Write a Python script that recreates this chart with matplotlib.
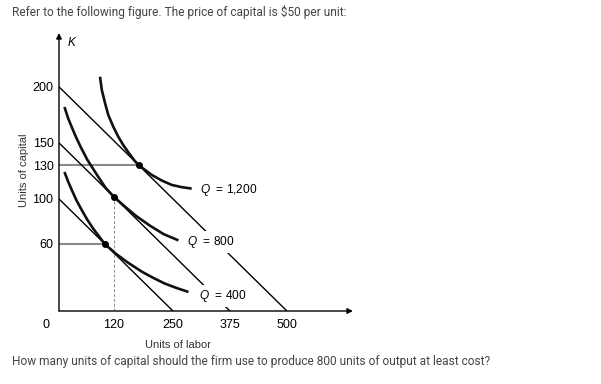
import matplotlib.pyplot as plt

plt.rcParams['font.family'] = ['Liberation Sans', 'DejaVu Sans']
plt.rcParams['mathtext.fontset'] = 'custom'
plt.rcParams['mathtext.it'] = 'Liberation Sans:italic'
plt.rcParams['mathtext.rm'] = 'Liberation Sans'

# isocost lines: (capital intercept, labor intercept)
isocost_k = [200, 150, 100]
isocost_l = [500, 375, 250]

# isoquants (labor, capital)
q1200_l = [90, 94, 101, 108, 119, 130, 141, 154, 166, 175, 185, 203, 225, 247, 269, 291]
q1200_k = [209, 197, 185.5, 175, 164.5, 155.5, 148, 140.5, 134, 130, 127, 121.5, 116.5, 112.5, 110.5, 109.2]
q800_l = [12, 20, 28, 38, 48, 62, 84, 102, 120, 145, 170, 200, 230, 262]
q800_k = [182, 172, 164, 154.5, 146, 135, 121, 110, 102, 93, 84.5, 76, 68.5, 63]
q400_l = [12, 20, 28, 38, 50, 62, 75, 100, 125, 150, 182, 207, 232, 258, 284]
q400_k = [124, 115.5, 108, 99, 90, 81.5, 73.5, 60, 51, 43.5, 35, 29.5, 24.5, 20.5, 17]
q_labels = ['$Q$  = 1,200', '$Q$  = 800', '$Q$  = 400']

# tangency points
opt_l = [175, 120, 100]
opt_k = [130, 102, 60]

x_ticks = [120, 250, 375, 500]
y_ticks = [200, 150, 130, 100, 60]

W, H = 601, 384
fig = plt.figure(figsize=(W / 100, H / 100), dpi=100)
ax = fig.add_axes([59 / W, (H - 311) / H, (353 - 59) / W, (311 - 33) / H])
ax.set_xlim(0, 645)
ax.set_ylim(0, 248)
for s in ax.spines.values():
    s.set_visible(False)

# axes with arrows
ax.annotate('', xy=(0, 1), xytext=(0, 0), xycoords='axes fraction',
            arrowprops=dict(arrowstyle='-|>', color='black', lw=1.0,
                            mutation_scale=8, shrinkA=0, shrinkB=0))
ax.annotate('', xy=(1, 0), xytext=(0, 0), xycoords='axes fraction',
            arrowprops=dict(arrowstyle='-|>', color='black', lw=1.0,
                            mutation_scale=8, shrinkA=0, shrinkB=0))

for k0, l0 in zip(isocost_k, isocost_l):
    ax.plot([0, l0], [k0, 0], color='black', lw=1.0, zorder=2)

for ls, ks in [(q1200_l, q1200_k), (q800_l, q800_k), (q400_l, q400_k)]:
    ax.plot(ls, ks, color='#111111', lw=1.9, solid_joinstyle='round',
            solid_capstyle='butt', zorder=3)

# guide lines
ax.plot([0, opt_l[0]], [opt_k[0], opt_k[0]], color='#8a8a8a', lw=1.5, zorder=1)
ax.plot([0, opt_l[2]], [opt_k[2], opt_k[2]], color='#8a8a8a', lw=1.5, zorder=1)
ax.plot([opt_l[1], opt_l[1]], [0, opt_k[1]], color='#8a8a8a', lw=0.7,
        linestyle=(0, (3, 2)), zorder=1)
ax.scatter(opt_l, opt_k, s=16, color='black', zorder=4)

# isoquant labels (white box breaks the isocost lines)
label_pos = [(309, 108), (281, 61.5), (307, 13.5)]
for txt, (lx, ly) in zip(q_labels, label_pos):
    ax.text(lx, ly, txt, fontsize=8.6, va='center', ha='left', zorder=5,
            bbox=dict(facecolor='white', edgecolor='none', pad=2.0))

ax.set_xticks(x_ticks)
ax.set_yticks(y_ticks)
ax.set_xticklabels([str(v) for v in x_ticks], fontsize=9)
ax.set_yticklabels([str(v) for v in y_ticks], fontsize=9)
ax.tick_params(axis='x', length=0, pad=6)
ax.tick_params(axis='y', length=0, pad=4)

fig.text(46 / W, 1 - 325 / H, '0', fontsize=9, ha='center', va='center')
fig.text(72 / W, 1 - 42 / H, '$K$', fontsize=8.5, ha='center', va='center')
fig.text(178 / W, 1 - 345 / H, 'Units of labor', fontsize=8, ha='center', va='center',
         color='#333333')
fig.text(24 / W, 1 - 170 / H, 'Units of capital', fontsize=8, ha='center', va='center',
         rotation=90, color='#333333')

fig.text(12 / W, 1 - 12 / H, 'Refer to the following figure. The price of capital is $50 per unit:',
         fontsize=8.6, ha='left', va='center', color='#444444', family='Roboto')
fig.text(12 / W, 1 - 362 / H,
         'How many units of capital should the firm use to produce 800 units of output at least cost?',
         fontsize=8.6, ha='left', va='center', color='#444444', family='Roboto')

fig.savefig('out.png', dpi=100)
plt.close(fig)
